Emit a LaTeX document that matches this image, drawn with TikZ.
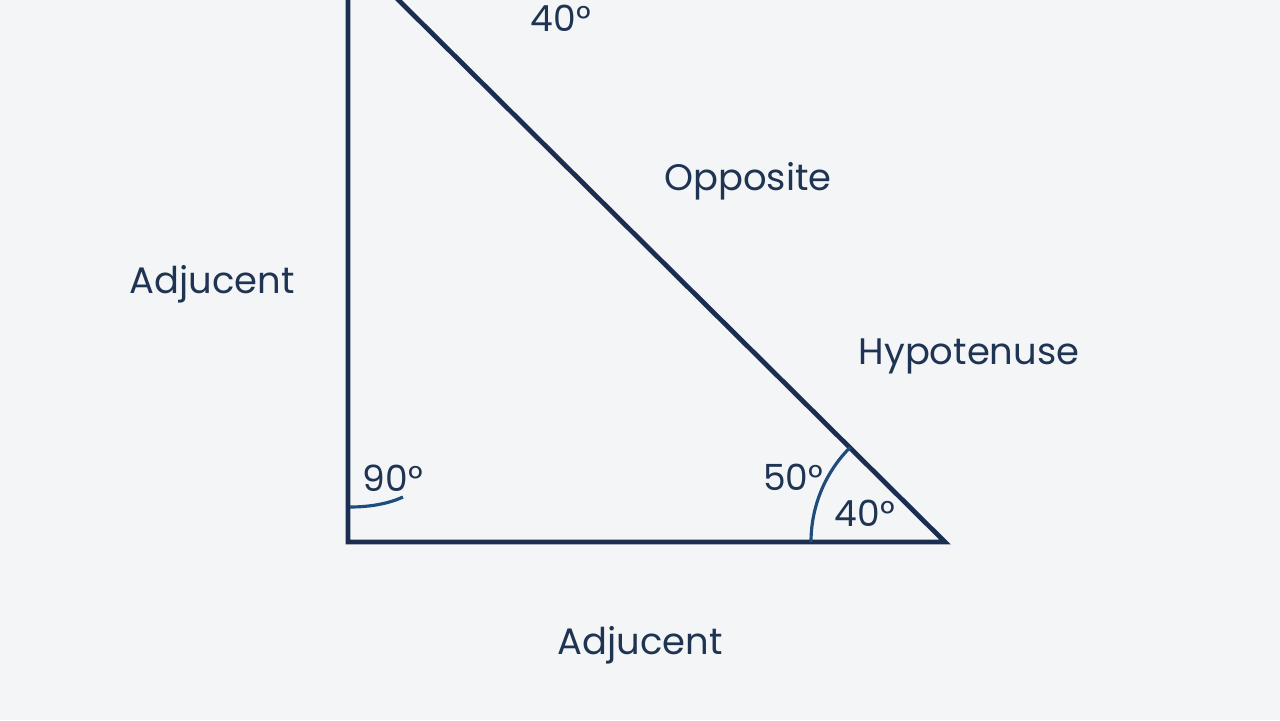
\documentclass[tikz,border=0pt]{standalone}
\usepackage{fontspec}
\setmainfont{Poppins}
\definecolor{bgc}{HTML}{F4F5F7}
\definecolor{edgec}{HTML}{1B2E52}
\definecolor{arcc}{HTML}{1E4C7C}
\definecolor{txtc}{HTML}{1E3452}
\tikzset{
  side/.style={draw=edgec,line width=2.7pt,line join=miter},
  anglearc/.style={draw=arcc,line width=1.8pt},
  lbl/.style={text=txtc,font=\fontsize{21}{25}\selectfont,inner sep=0pt},
  deg/.style={text=txtc,font=\fontsize{20.5}{24}\selectfont,inner sep=0pt}
}
\begin{document}
\begin{tikzpicture}[x=0.02cm,y=-0.02cm]
		\fill [bgc] (0,0) rectangle (1280,720);
		\useasboundingbox (0,0) rectangle (1280,720);
		\begin{scope}
			\clip (0,0) rectangle (1280,720);
			\draw [side] (348,-50) -- (348,542) -- (945,542) -- cycle;
		\end{scope}
		\draw [anglearc] (811,542) arc [start angle=180,end angle=225,radius=134];
		\draw [anglearc] (350,507) .. controls (372,507) and (390,503) .. (403,497);
		\node [deg] (topangle) at (561,18) {40°};
		\node [lbl] (opp) at (748,181) {Opposite};
		\node [lbl] (adjleft) at (212,284) {Adjucent};
		\node [lbl] (hyp) at (969,356) {Hypotenuse};
		\node [deg] (rightangle) at (393,478) {90°};
		\node [deg] (fiftyangle) at (793,477) {50°};
		\node [deg] (fortyangle) at (865,513) {40°};
		\node [lbl] (adjbottom) at (640,645) {Adjucent};
	\end{tikzpicture}
\end{document}
